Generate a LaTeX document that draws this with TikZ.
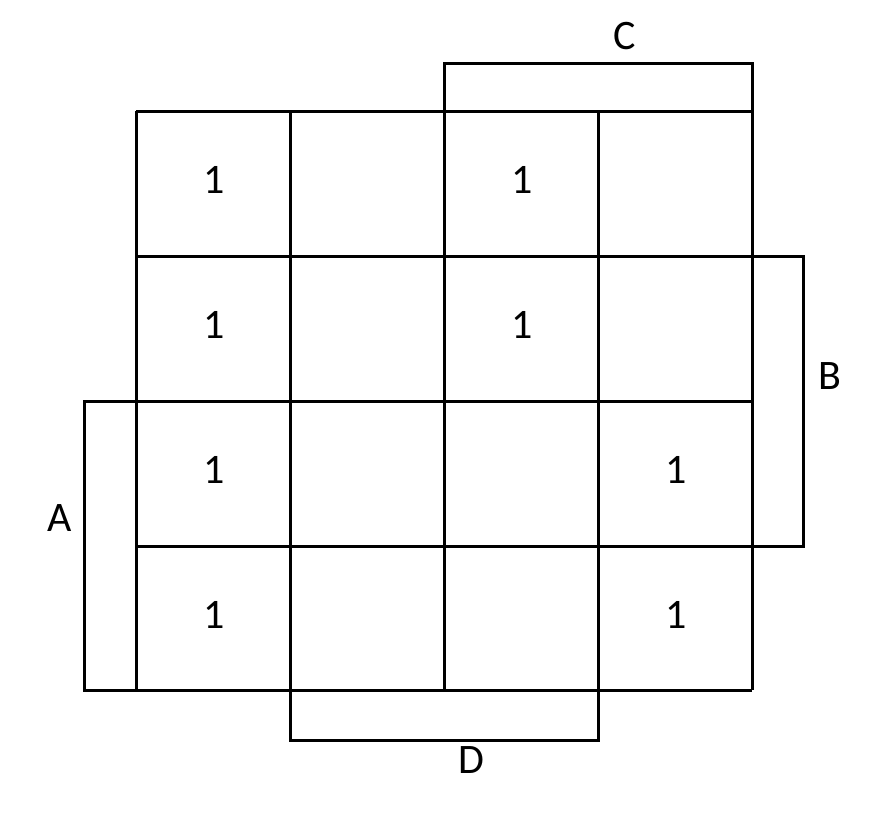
\documentclass[tikz,border=0pt]{standalone}
\usepackage{fontspec}
\setmainfont{Carlito}
\begin{document}
\begin{tikzpicture}[x=1pt,y=-1pt,
  kline/.style={line width=3pt},
  lbl/.style={font=\fontsize{42}{42}\selectfont, inner sep=0pt}]
\useasboundingbox (0,0) rectangle (881,817);
% grid
\foreach \x in {136,290,444,598,752} \draw[kline] (\x,111) -- (\x,690);
\foreach \y in {111,256,401,546,690} \draw[kline] (136,\y) -- (752,\y);
% brackets
\draw[kline] (444,111) -- (444,63) -- (752,63) -- (752,111);
\draw[kline] (752,256) -- (803,256) -- (803,546) -- (752,546);
\draw[kline] (136,401) -- (84,401) -- (84,690) -- (136,690);
\draw[kline] (290,690) -- (290,740) -- (598,740) -- (598,690);
% labels
\node[lbl] (C) at (625,36) {C};
\node[lbl] (B) at (830,376) {B};
\node[lbl] (A) at (60,518) {A};
\node[lbl] (D) at (471,760) {D};
% ones
\node[lbl] (m11) at (214,180) {1};
\node[lbl] (m13) at (522,180) {1};
\node[lbl] (m21) at (214,325) {1};
\node[lbl] (m23) at (522,325) {1};
\node[lbl] (m31) at (214,470) {1};
\node[lbl] (m34) at (676,470) {1};
\node[lbl] (m41) at (214,615) {1};
\node[lbl] (m44) at (676,615) {1};
\end{tikzpicture}
\end{document}
